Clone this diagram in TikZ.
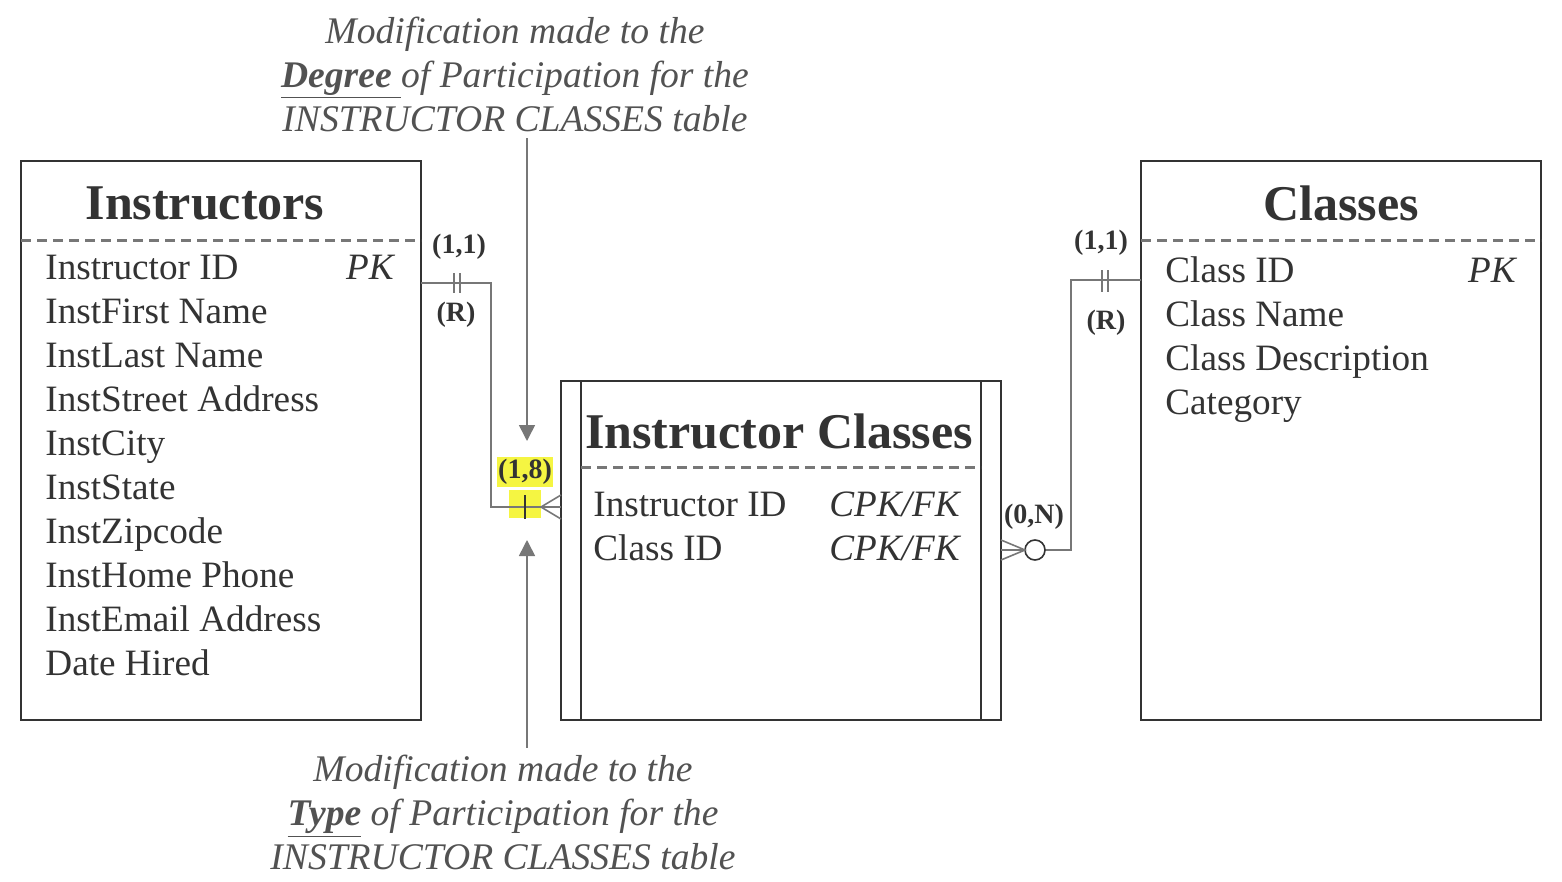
\documentclass[tikz,border=0pt]{standalone}
\usepackage{fontspec}
\setmainfont{Liberation Serif}
\usepackage{xcolor}
\usetikzlibrary{arrows.meta,calc}
\definecolor{ink}{HTML}{333333}
\definecolor{wire}{HTML}{777777}
\definecolor{hl}{HTML}{F5F542}
\begin{document}
\begin{tikzpicture}[
  x=0.5pt, y=-0.5pt,
  >={Triangle[length=8pt,width=8pt]},
  box/.style = {draw=ink, line width=0.8pt},
  sep/.style = {draw=wire, dash pattern=on 5pt off 3pt, line width=1.5pt},
  title/.style = {font=\fontsize{25}{28}\selectfont\bfseries, text=ink},
  row/.style = {font=\fontsize{18.6}{20}\selectfont, text=ink, anchor=west, inner sep=0pt,
    text height=12pt, text depth=3pt},
  key/.style = {font=\fontsize{18.6}{20}\selectfont\itshape, text=ink, anchor=east, inner sep=0pt,
    text height=12pt, text depth=3pt},
  card/.style = {font=\fontsize{14}{16}\selectfont\bfseries, text=ink, inner sep=1pt},
  note/.style = {font=\fontsize{18.8}{22}\selectfont\itshape, text=ink!85, align=center},
  rel/.style = {draw=wire, line width=0.8pt},
  pointer/.style = {draw=wire, line width=0.8pt, ->}
]
\useasboundingbox (0,0) rectangle (1562,882);

% ---- tables ----
\draw[box] (21,161) rectangle (421,720);
\draw[sep] (21,241) -- (421,241);
\node[title] (inst) at (205,203) {Instructors};

\draw[box] (1141,161) rectangle (1541,720);
\draw[sep] (1141,241) -- (1541,241);
\node[title] (cls) at (1341,203) {Classes};

\draw[box] (561,381) rectangle (1001,720);
\draw[box] (581,381) -- (581,720) (981,381) -- (981,720);
\draw[sep] (581,467) -- (981,467);
\node[title] (ic) at (779,431) {Instructor Classes};

% ---- rows ----
\foreach \t [count=\i from 0] in {Instructor ID, InstFirst Name, InstLast Name,
  InstStreet Address, InstCity, InstState, InstZipcode, InstHome Phone,
  InstEmail Address, Date Hired}
  \node[row] (inst\i) at (45,{270+44*\i}) {\t};
\node[key] (instpk) at (394,270) {PK};

\foreach \t [count=\i from 0] in {Class ID, Class Name, Class Description, Category}
  \node[row] (cls\i) at (1165,{273+44*\i}) {\t};
\node[key] (clspk) at (1516,273) {PK};

\node[row] (ic0) at (593,507) {Instructor ID};
\node[row] (ic1) at (593,551) {Class ID};
\node[key] (icfk0) at (960,507) {CPK/FK};
\node[key] (icfk1) at (960,551) {CPK/FK};

% ---- relationship: Instructors -> Instructor Classes ----
\coordinate (a1) at (421,283);
\coordinate (a2) at (561,507);
\fill[hl] (497,457) rectangle (553,487);
\fill[hl] (509,490) rectangle (541,518);
\draw[rel] (a1) -- (491,283) -- (491,507) -- (a2);
\draw[rel] (454,273) -- (454,293) (460,273) -- (460,293);
\draw[draw=ink, line width=0.8pt] (525,495) -- (525,519);
\draw[rel] (561,495) -- (541,507) -- (561,519);
\node[card] (c11a) at (459,247) {(1,1)};
\node[card] (ra) at (456,315) {(R)};
\node[card] (c18) at (525,472) {(1,8)};

% ---- relationship: Classes -> Instructor Classes ----
\coordinate (b1) at (1141,280);
\coordinate (b2) at (1001,550);
\draw[rel] (b1) -- (1071,280) -- (1071,550) -- (1045,550);
\draw[rel] (1102,270) -- (1102,292) (1108,270) -- (1108,292);
\draw[draw=ink, line width=0.8pt] (1035,550) circle (10);
\draw[rel] (1001,540) -- (1025,550) -- (1001,560) (b2) -- (1025,550);
\node[card] (c11b) at (1101,243) {(1,1)};
\node[card] (rb) at (1106,323) {(R)};
\node[card] (c0n) at (1034,517) {(0,N)};

% ---- annotations ----
\node[note] (degree) at (515,74) {Modification made to the\\
  \underline{\textbf{Degree }}of Participation for the\\ INSTRUCTOR CLASSES table};
\node[note] (type) at (503,812) {Modification made to the\\
  \underline{\textbf{Type}} of Participation for the\\ INSTRUCTOR CLASSES table};
\coordinate (p1) at (527,441);
\coordinate (p2) at (527,540);
\draw[pointer] (degree.south -| p1) -- (p1);
\draw[pointer] (type.north -| p2) -- (p2);
\end{tikzpicture}
\end{document}
